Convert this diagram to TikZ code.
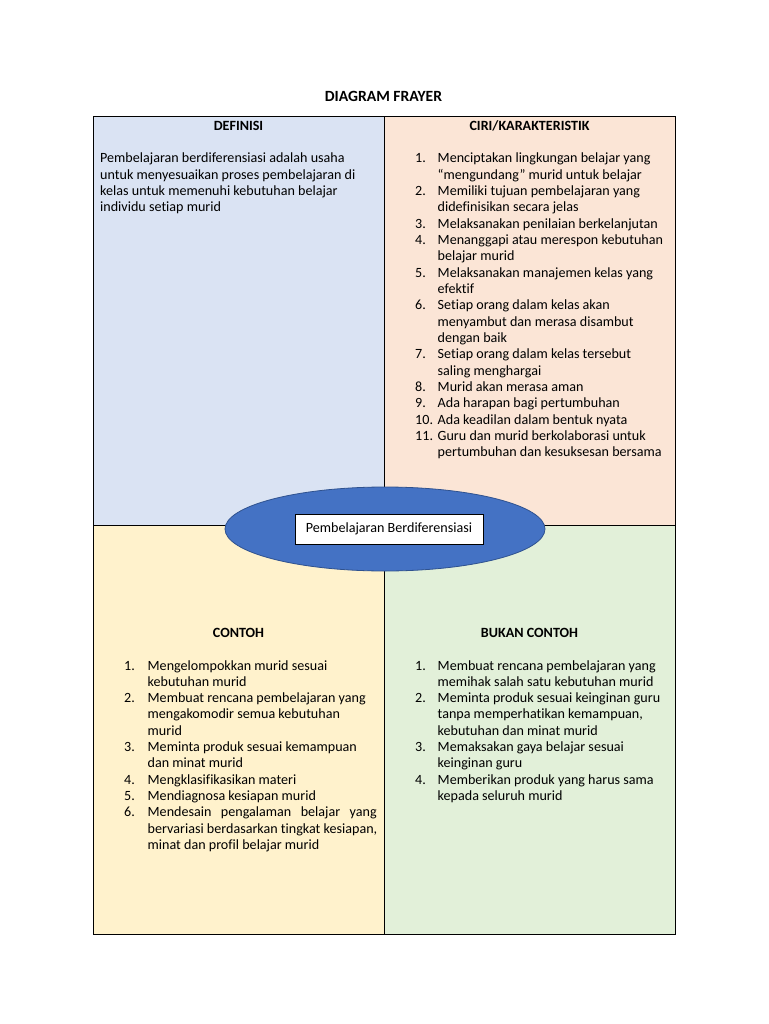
\documentclass[tikz,border=0pt]{standalone}
\usepackage{fontspec}
\setmainfont[Ligatures=NoCommon]{Carlito}
\usepackage{tikz}
\usetikzlibrary{shapes.geometric}

\definecolor{defblue}{HTML}{DAE3F3}
\definecolor{ciripeach}{HTML}{FBE5D6}
\definecolor{contohyellow}{HTML}{FFF2CC}
\definecolor{bukangreen}{HTML}{E2F0D9}
\definecolor{ovalblue}{HTML}{4472C4}
\definecolor{ovalline}{HTML}{2F528F}

\newcommand{\txt}{\fontsize{14.1}{16.33}\selectfont}

\begin{document}
\begin{tikzpicture}[x=1pt,y=-1pt]
    \tikzstyle{cell}=[rectangle,draw,line width=0.8pt,inner sep=0pt,minimum width=291pt,minimum height=409pt]
    \tikzstyle{head}=[anchor=base,inner sep=0pt,font=\txt\bfseries]
    \tikzstyle{body}=[anchor=base west,inner sep=0pt,font=\txt,align=left]
    \useasboundingbox (0,0) rectangle (768,1024);
    \node (title) at (383.5,102) [head,font=\fontsize{15.6}{18}\selectfont\bfseries] {DIAGRAM FRAYER};
    % the four quadrants
    \node (definisi) at (238.5,320.5) [cell,fill=defblue] {};
    \node (ciri)     at (529.5,320.5) [cell,fill=ciripeach] {};
    \node (contoh)   at (238.5,730)   [cell,fill=contohyellow] {};
    \node (bukan)    at (529.5,730)   [cell,fill=bukangreen] {};
    \node (defhead)   at (238.5,131) [head] {DEFINISI};
    \node (cirihead)  at (529.5,131) [head] {CIRI/KARAKTERISTIK};
    \node (conhead)   at (238.5,637) [head] {CONTOH};
    \node (bukanhead) at (529.5,637) [head] {BUKAN CONTOH};
    \node (deftext) at (100,163) [body] {\begin{tabular}[t]{@{}l@{}}
        Pembelajaran berdiferensiasi adalah usaha\\
        untuk menyesuaikan proses pembelajaran di\\
        kelas untuk memenuhi kebutuhan belajar\\
        individu setiap murid
    \end{tabular}};
    \node (cirilist) at (415,163) [body] {\begin{tabular}[t]{@{}p{22.5pt}@{}l@{}}
        1.  & Menciptakan lingkungan belajar yang\\
            & “mengundang” murid untuk belajar\\
        2.  & Memiliki tujuan pembelajaran yang\\
            & didefinisikan secara jelas\\
        3.  & Melaksanakan penilaian berkelanjutan\\
        4.  & Menanggapi atau merespon kebutuhan\\
            & belajar murid\\
        5.  & Melaksanakan manajemen kelas yang\\
            & efektif\\
        6.  & Setiap orang dalam kelas akan\\
            & menyambut dan merasa disambut\\
            & dengan baik\\
        7.  & Setiap orang dalam kelas tersebut\\
            & saling menghargai\\
        8.  & Murid akan merasa aman\\
        9.  & Ada harapan bagi pertumbuhan\\
        10. & Ada keadilan dalam bentuk nyata\\
        11. & Guru dan murid berkolaborasi untuk\\
            & pertumbuhan dan kesuksesan bersama
    \end{tabular}};
    \node (conlist) at (124,670) [body] {\begin{tabular}[t]{@{}p{23.5pt}@{}l@{}}
        1. & Mengelompokkan murid sesuai\\
           & kebutuhan murid\\
        2. & Membuat rencana pembelajaran yang\\
           & mengakomodir semua kebutuhan\\
           & murid\\
        3. & Meminta produk sesuai kemampuan\\
           & dan minat murid\\
        4. & Mengklasifikasikan materi\\
        5. & Mendiagnosa kesiapan murid\\
        6. & \makebox[229pt][s]{Mendesain pengalaman belajar yang}\\
           & bervariasi berdasarkan tingkat kesiapan,\\
           & minat dan profil belajar murid
    \end{tabular}};
    \node (bukanlist) at (415,670) [body] {\begin{tabular}[t]{@{}p{22.5pt}@{}l@{}}
        1. & Membuat rencana pembelajaran yang\\
           & memihak salah satu kebutuhan murid\\
        2. & Meminta produk sesuai keinginan guru\\
           & tanpa memperhatikan kemampuan,\\
           & kebutuhan dan minat murid\\
        3. & Memaksakan gaya belajar sesuai\\
           & keinginan guru\\
        4. & Memberikan produk yang harus sama\\
           & kepada seluruh murid
    \end{tabular}};
    % centre concept
    \node (oval) at (385,529) [ellipse,draw=ovalline,line width=0.8pt,fill=ovalblue,minimum width=320pt,minimum height=84pt] {};
    \node (konsep) at (389,529) [rectangle,draw,line width=0.8pt,fill=white,minimum width=188pt,minimum height=30pt,font=\txt] {Pembelajaran Berdiferensiasi};
\end{tikzpicture}
\end{document}
